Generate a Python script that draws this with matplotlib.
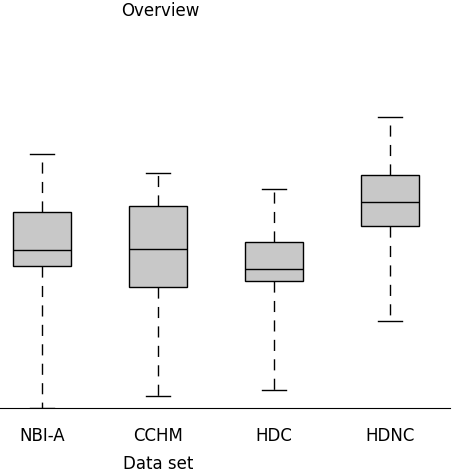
import matplotlib
matplotlib.use("Agg")
import matplotlib.pyplot as plt

# values (arbitrary units, axis is unlabelled)
labels = ["NBI-A", "CCHM", "HDC", "HDNC"]
whislo = [0, 12, 18, 87]
q1 = [142, 121, 127, 182]
med = [158, 159, 139, 206]
q3 = [196, 202, 166, 233]
whishi = [254, 235, 219, 291]

stats = []
for i in range(len(labels)):
    stats.append(dict(label=labels[i], whislo=whislo[i], q1=q1[i], med=med[i],
                      q3=q3[i], whishi=whishi[i], fliers=[]))

fig = plt.figure(figsize=(4.74, 4.74), dpi=100)
ax = fig.add_axes([0, 66 / 474, 450 / 474, 408 / 474])
ax.bxp(stats, positions=[42, 158, 274, 390], widths=58, patch_artist=True,
       boxprops=dict(facecolor="#c8c8c8", edgecolor="black", linewidth=1),
       medianprops=dict(color="black", linewidth=1),
       whiskerprops=dict(color="black", linestyle=(0, (8, 6)), linewidth=1),
       capprops=dict(color="black", linewidth=1),
       capwidths=24)
ax.set_xlim(0, 450)
ax.set_ylim(0, 408)
for s in ["top", "right", "left"]:
    ax.spines[s].set_visible(False)
ax.set_yticks([])
ax.tick_params(axis="x", length=0, labelsize=12, pad=14)
ax.set_xlabel("Data set", fontsize=12, labelpad=6)
ax.xaxis.set_label_coords(158 / 450, -0.115)
fig.text(160 / 474, 1 - 11 / 474, "Overview", fontsize=12, ha="center", va="center")
fig.savefig("out.png", dpi=100)
